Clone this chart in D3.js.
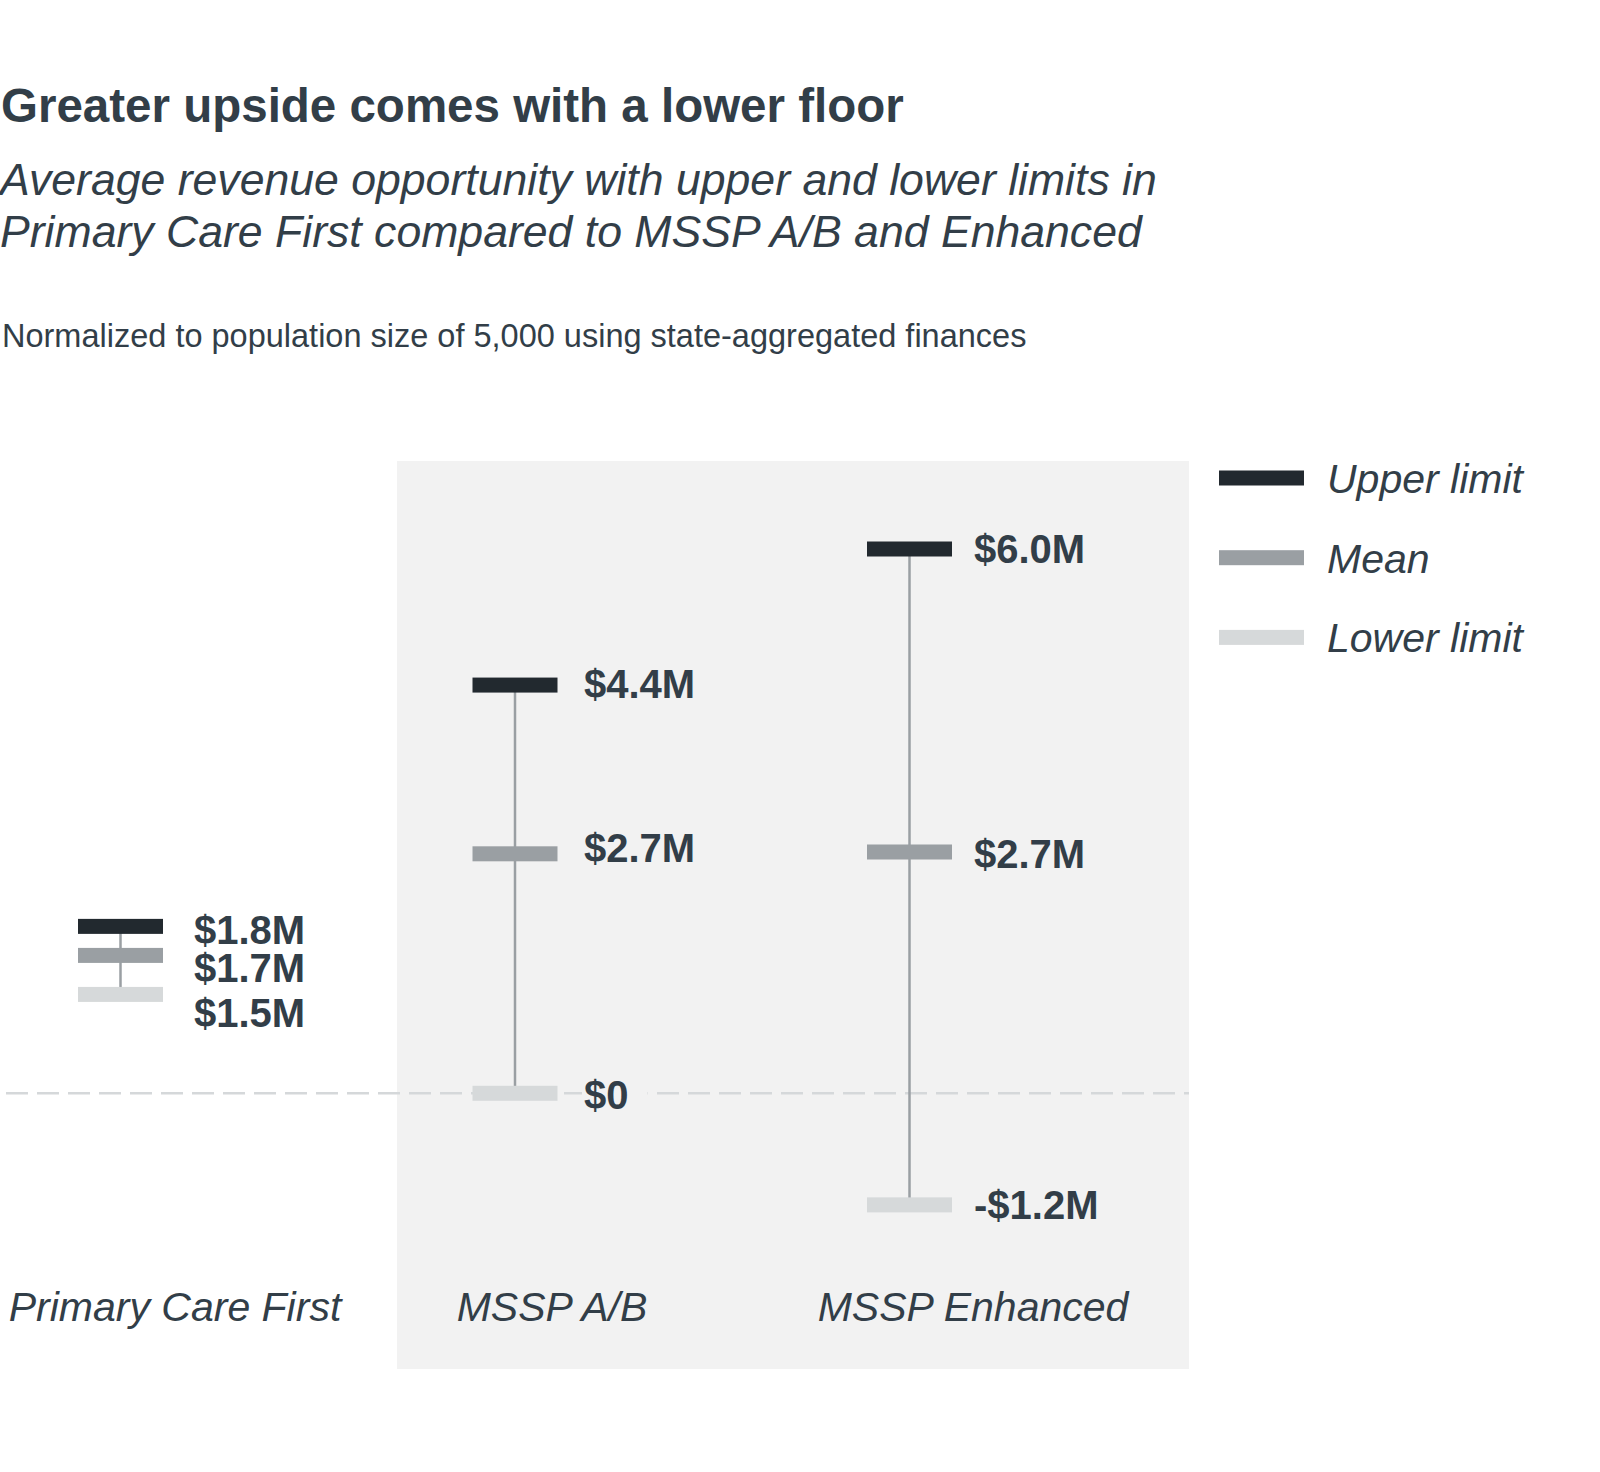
<!DOCTYPE html>
<html><head><meta charset="utf-8">
<script src="https://cdn.jsdelivr.net/npm/d3@7"></script>
<style>body{margin:0;background:#fff} svg{display:block}</style>
</head><body>
<script>
// ---- data ----
const categories = ["Primary Care First", "MSSP A/B", "MSSP Enhanced"];
const upperValues = [1.84, 4.5, 6.0];
const meanValues = [1.52, 2.64, 2.66];
const lowerValues = [1.09, 0, -1.23];
const upperLabels = ["$1.8M", "$4.4M", "$6.0M"];
const meanLabels = ["$1.7M", "$2.7M", "$2.7M"];
const lowerLabels = ["$1.5M", "$0", "-$1.2M"];
const seriesNames = ["Upper limit", "Mean", "Lower limit"];

// ---- layout / style ----
const W = 1600, H = 1472;
const FONT = "'Liberation Sans', Arial, Helvetica, sans-serif";
const TEXT = "#323e48";
const colors = ["#22292f", "#9a9fa3", "#d6d9da"];
const panelFill = "#f2f2f2";
const barW = 85, barH = 15;
const barOffset = 118;
const valueDx = [73.5, 69, 64.5];
const valueNudge = [[3, 12.5, 18], [-1, -6, 1], [0, 1.5, 0]];
const catDx = [54.5, 37, 63.5];

const svg = d3.select("body").append("svg").attr("width", W).attr("height", H);

// titles
svg.append("text").attr("x", 1).attr("y", 122).attr("font-family", FONT)
  .attr("font-weight", "bold").attr("font-size", 47.5).attr("fill", TEXT)
  .text("Greater upside comes with a lower floor");
const sub = ["Average revenue opportunity with upper and lower limits in",
             "Primary Care First compared to MSSP A/B and Enhanced"];
svg.selectAll("text.sub").data(sub).join("text").attr("class", "sub")
  .attr("x", 0).attr("y", (d, i) => 195 + i * 52)
  .attr("font-family", FONT).attr("font-style", "italic").attr("font-size", 44.6)
  .attr("fill", TEXT).text(d => d);
svg.append("text").attr("x", 2).attr("y", 347).attr("font-family", FONT)
  .attr("font-size", 32.5).attr("fill", TEXT)
  .text("Normalized to population size of 5,000 using state-aggregated finances");

// scales
const x = d3.scaleBand().domain(categories).range([2.5, 1186]).paddingInner(0).paddingOuter(0);
const y = d3.scaleLinear().domain([0, 6]).range([1093.3, 549]);
const cx = c => x(c) + barOffset;

// panel
svg.append("rect").attr("x", 397).attr("y", 461)
  .attr("width", 1189 - 397).attr("height", 1369 - 461)
  .attr("fill", panelFill);

// zero line
svg.append("line").attr("x1", 6).attr("x2", 1189).attr("y1", y(0)).attr("y2", y(0))
  .attr("stroke", "#d5d8da").attr("stroke-width", 2.5).attr("stroke-dasharray", "22 9");

const rows = categories.map((c, i) => ({
  c, i,
  vals: [upperValues[i], meanValues[i], lowerValues[i]],
  labs: [upperLabels[i], meanLabels[i], lowerLabels[i]]
}));

// connectors
svg.selectAll("line.conn").data(rows).join("line").attr("class", "conn")
  .attr("x1", d => cx(d.c)).attr("x2", d => cx(d.c))
  .attr("y1", d => y(d.vals[0])).attr("y2", d => y(d.vals[2]))
  .attr("stroke", "#9a9fa3").attr("stroke-width", 2.5);

// bars
rows.forEach(r => {
  r.vals.forEach((v, k) => {
    svg.append("rect").attr("x", cx(r.c) - barW / 2).attr("y", y(v) - barH / 2)
      .attr("width", barW).attr("height", barH).attr("fill", colors[k]);
  });
});

// value labels
rows.forEach(r => {
  r.labs.forEach((lab, k) => {
    const lx = cx(r.c) + valueDx[r.i];
    const ly = y(r.vals[k]) + 14.3 + valueNudge[r.i][k];
    const t = svg.append("text").attr("x", lx).attr("y", ly)
      .attr("font-family", FONT).attr("font-weight", "bold").attr("font-size", 40)
      .attr("fill", TEXT).text(lab);
    if (r.vals[k] === 0) {
      const bb = t.node().getBBox();
      svg.insert("rect", () => t.node()).attr("x", bb.x - 2).attr("y", y(0) - 4)
        .attr("width", bb.width + 21).attr("height", 8).attr("fill", panelFill);
    }
  });
});

// category labels
svg.selectAll("text.cat").data(rows).join("text").attr("class", "cat")
  .attr("x", d => cx(d.c) + catDx[d.i]).attr("y", 1321).attr("text-anchor", "middle")
  .attr("font-family", FONT).attr("font-style", "italic").attr("font-size", 41)
  .attr("fill", TEXT).text(d => d.c);

// legend
const lg = svg.append("g");
seriesNames.forEach((s, k) => {
  const ly = 478 + k * 79.7;
  lg.append("rect").attr("x", 1219).attr("y", ly - barH / 2).attr("width", barW)
    .attr("height", barH).attr("fill", colors[k]);
  lg.append("text").attr("x", 1327).attr("y", ly + 15).attr("font-family", FONT)
    .attr("font-style", "italic").attr("font-size", 41).attr("fill", TEXT).text(s);
});
</script>
</body></html>
